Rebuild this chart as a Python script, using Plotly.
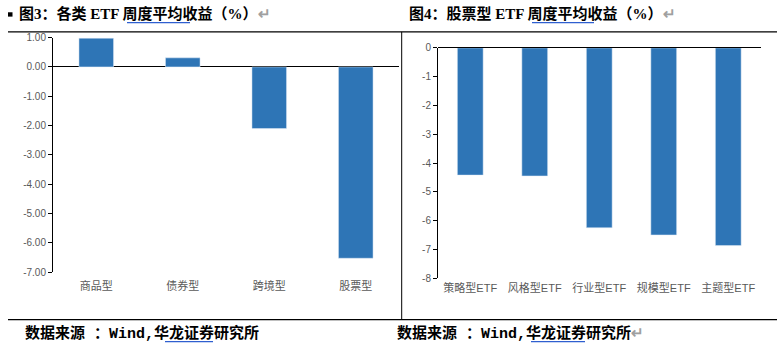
import plotly.graph_objects as go

W, H = 777, 350

# ---- data ----
cats_left = ["商品型", "债券型", "跨境型", "股票型"]
vals_left = [0.98, 0.31, -2.10, -6.52]
left_tickvals = [1, 0, -1, -2, -3, -4, -5, -6, -7]
left_ticktext = ["1.00", "0.00", "-1.00", "-2.00", "-3.00", "-4.00", "-5.00", "-6.00", "-7.00"]

cats_right = ["策略型ETF", "风格型ETF", "行业型ETF", "规模型ETF", "主题型ETF"]
vals_right = [-4.42, -4.45, -6.25, -6.50, -6.87]
right_tickvals = [0, -1, -2, -3, -4, -5, -6, -7, -8]
right_ticktext = ["0", "-1", "-2", "-3", "-4", "-5", "-6", "-7", "-8"]

title_left = "图3：各类 ETF 周度平均收益（%）"
title_right = "图4：股票型 ETF 周度平均收益（%）"
source_text = "数据来源 ：Wind,华龙证券研究所"

BAR = "#2E75B6"
TICK = "#595959"


def px(x):
    return x / W


def py(y):
    return 1 - y / H


fig = go.Figure()
fig.add_trace(go.Bar(x=cats_left, y=vals_left, marker_color=BAR, xaxis="x", yaxis="y",
                     showlegend=False, hoverinfo="skip"))
fig.add_trace(go.Bar(x=cats_right, y=vals_right, marker_color=BAR, xaxis="x2", yaxis="y2",
                     showlegend=False, hoverinfo="skip"))

tickfont = dict(family="Liberation Sans, Arial, Noto Sans CJK SC", size=10, color=TICK)
catfont = dict(family="Liberation Sans, Arial, Noto Sans CJK SC", size=11, color=TICK)

common_x = dict(type="category", showline=False, ticks="", showgrid=False, zeroline=False,
                tickfont=catfont, fixedrange=True)
common_y = dict(showline=True, linecolor="black", linewidth=1, ticks="outside", ticklen=4,
                tickcolor="black", tickwidth=1, showgrid=False, zeroline=True,
                zerolinecolor="black", zerolinewidth=1.3, tickfont=tickfont, fixedrange=True,
                tickmode="array")

fig.update_layout(
    width=W, height=H, margin=dict(l=0, r=0, t=0, b=0),
    paper_bgcolor="white", plot_bgcolor="white",
    bargap=0.6,
    xaxis=dict(domain=[px(53), px(399)], anchor="y", ticklabelstandoff=6, **common_x),
    yaxis=dict(domain=[py(275.8), py(32.7)], anchor="x", range=[-7, 1],
               tickvals=left_tickvals, ticktext=left_ticktext, **common_y),
    xaxis2=dict(domain=[px(438), px(760.5)], anchor="y2", ticklabelstandoff=2, **common_x),
    yaxis2=dict(domain=[py(281.8), py(43.4)], anchor="x2", range=[-8, 0],
                tickvals=right_tickvals, ticktext=right_ticktext, **common_y),
)

shapes = []
line_k = dict(color="black", width=1.3)
# frame lines
shapes.append(dict(type="line", xref="paper", yref="paper", x0=px(8), x1=px(777), y0=py(26.8), y1=py(26.8), line=line_k))
shapes.append(dict(type="line", xref="paper", yref="paper", x0=px(8), x1=px(777), y0=py(324.7), y1=py(324.7), line=line_k))
shapes.append(dict(type="line", xref="paper", yref="paper", x0=px(401.7), x1=px(401.7), y0=py(26.8), y1=py(324.7), line=dict(color="black", width=1)))
# bullet
shapes.append(dict(type="rect", xref="paper", yref="paper", x0=px(8), x1=px(12.5), y0=py(11), y1=py(6.5), fillcolor="black", line=dict(width=0)))
# blue underlines (spell-check style)
blue = dict(color="#2F5FD0", width=1.3)
for x0, x1, y in [(127, 190, 17.2), (532, 594, 17.2), (165, 213, 347.5), (531, 585, 347.5)]:
    shapes.append(dict(type="line", xref="paper", yref="paper", x0=px(x0), x1=px(x1), y0=py(y), y1=py(y), line=blue))
fig.update_layout(shapes=shapes)

tfont = dict(family="Liberation Serif, Noto Sans CJK SC", size=15, color="black")
sfont = dict(family="Liberation Mono, Noto Sans CJK SC", size=15, color="black")
ret = "<span style='color:#a0a0a0'><b>↵</b></span>"
ann = [
    dict(text="<b>" + title_left + "</b>" + ret, x=px(17), y=py(7.5), xanchor="left", yanchor="middle", font=tfont),
    dict(text="<b>" + title_right + "</b>" + ret, x=px(407), y=py(7.5), xanchor="left", yanchor="middle", font=tfont),
    dict(text="<b>" + source_text + "</b>", x=px(23), y=py(339.5), xanchor="left", yanchor="middle", font=sfont),
    dict(text="<b>" + source_text + "</b>" + ret, x=px(395), y=py(339.5), xanchor="left", yanchor="middle", font=sfont),
]
for a in ann:
    a.update(xref="paper", yref="paper", showarrow=False)
fig.update_layout(annotations=ann)

fig.write_html("out.html")
